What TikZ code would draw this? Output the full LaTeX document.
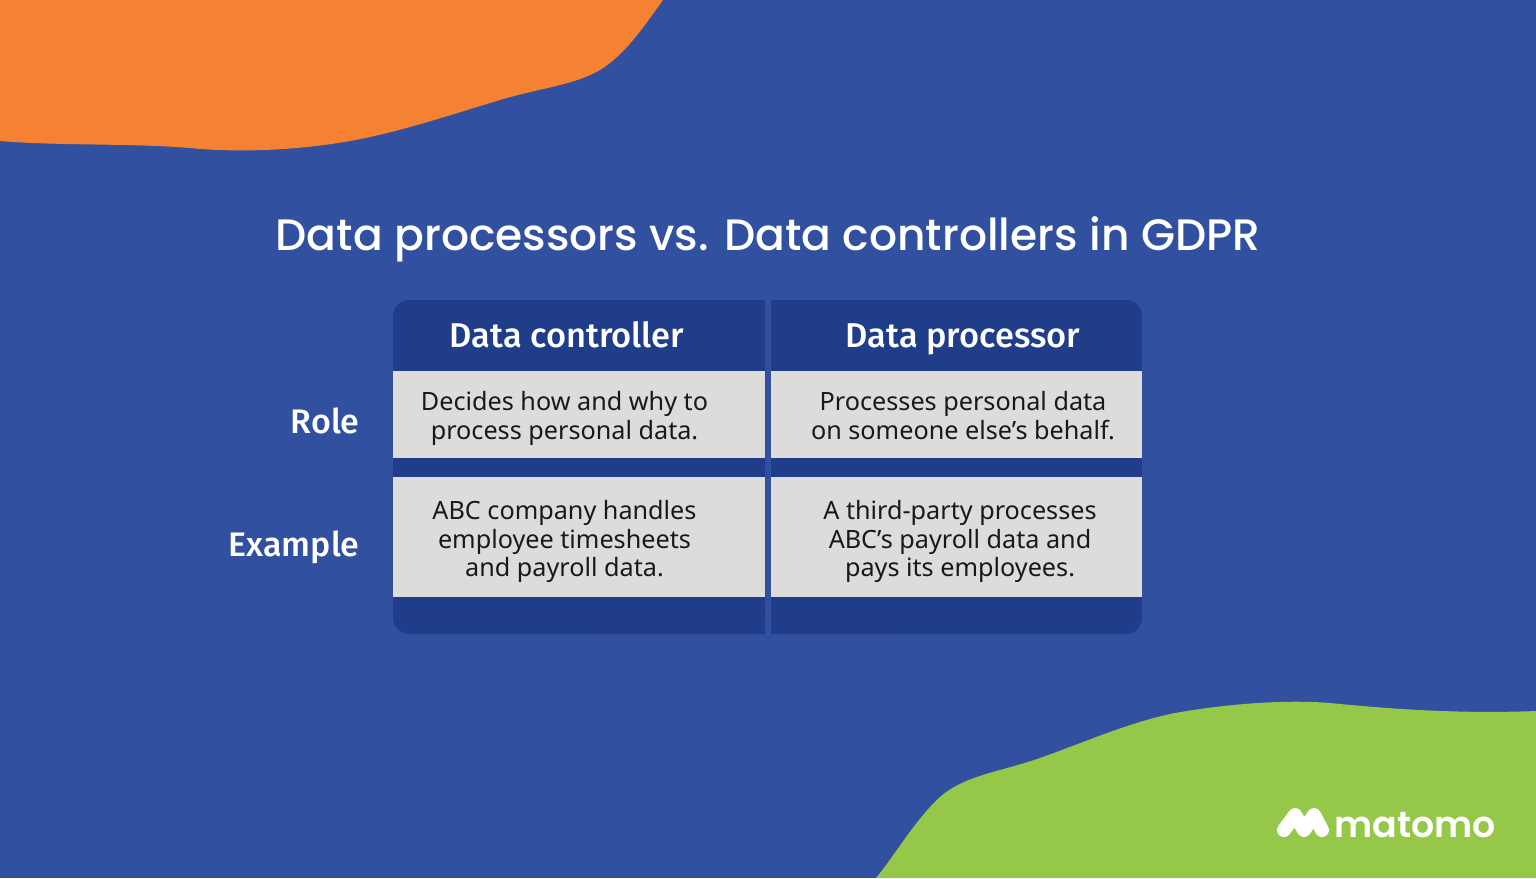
\documentclass[tikz,border=0pt]{standalone}
\usepackage{fontspec}
\setmainfont{Noto Sans}
\newfontfamily\mediumfont{Fira Sans Medium}
\newfontfamily\titlefont{Poppins Medium}
\newfontfamily\logofont{Poppins SemiBold}
\definecolor{bgblue}{HTML}{3150A0}
\definecolor{cellblue}{HTML}{1F3D88}
\definecolor{cellgray}{HTML}{DDDCDA}
\definecolor{blobor}{HTML}{F58233}
\definecolor{blobgr}{HTML}{95C748}
\tikzset{
    bodytext/.style = {black!90, font = \fontsize{12.6}{14.25}\selectfont, align = center, execute at begin node = \strut, execute at end node = \strut},
    headtext/.style = {white, font = \mediumfont\fontsize{17.2}{18}\selectfont, execute at begin node = \strut},
    sidetext/.style = {white, anchor = east, inner sep = 0, font = \mediumfont\fontsize{17}{18}\selectfont, execute at begin node = \strut},
}
\begin{document}
\begin{tikzpicture}[x = 0.5pt, y = -0.5pt]
    \fill [bgblue] (0, 0) rectangle (1536, 878);
    \useasboundingbox (0, 0) rectangle (1536, 878);
    % blobs
    \fill [blobor] (0, 0) -- (663, 0) .. controls (645, 25) and (625, 55) .. (600, 70)
        .. controls (575, 85) and (540, 88) .. (500, 100)
        .. controls (450, 115) and (400, 132) .. (350, 141)
        .. controls (300, 150) and (240, 153) .. (190, 148)
        .. controls (130, 143) and (60, 146) .. (0, 141) -- cycle;
    \fill [blobgr] (876, 878) .. controls (895, 855) and (915, 820) .. (940, 797)
        .. controls (965, 775) and (1000, 772) .. (1040, 758)
        .. controls (1085, 742) and (1130, 722) .. (1175, 713)
        .. controls (1220, 705) and (1280, 699) .. (1330, 703)
        .. controls (1390, 709) and (1460, 714) .. (1536, 711) -- (1536, 878) -- cycle;
    % table
    \fill [cellblue, rounded corners = 8] (393, 300) -- (393, 634) -- (765, 634) -- (765, 300) -- cycle;
    \fill [cellblue] (600, 300) rectangle (765, 320) (600, 610) rectangle (765, 634);
    \fill [cellblue, rounded corners = 8] (771, 300) -- (771, 634) -- (1142, 634) -- (1142, 300) -- cycle;
    \fill [cellblue] (771, 300) rectangle (900, 320) (771, 610) rectangle (900, 634);
    \fill [cellgray] (393, 371) rectangle (765, 458);
    \fill [cellgray] (771, 371) rectangle (1142, 458);
    \fill [cellgray] (393, 477) rectangle (765, 597);
    \fill [cellgray] (771, 477) rectangle (1142, 597);
    % texts
    \node [white, font = \titlefont\fontsize{22}{26}\selectfont] (title) at (768, 239) {Data processors vs. Data controllers in GDPR};
    \node [headtext] (head1) at (567, 340) {Data controller};
    \node [headtext] (head2) at (963, 340) {Data processor};
    \node [sidetext] (role) at (360, 426) {Role};
    \node [sidetext] (example) at (360, 549) {Example};
    \node [bodytext] (cell1) at (564.5, 419.5) {Decides how and why to\\process personal data.};
    \node [bodytext] (cell2) at (963, 419.5) {Processes personal data\\on someone else’s behalf.};
    \node [bodytext] (cell3) at (564.5, 543) {ABC company handles\\employee timesheets\\and payroll data.};
    \node [bodytext] (cell4) at (960, 543) {A third-party processes\\ABC’s payroll data and\\pays its employees.};
    % logo
    \draw [white, line width = 7pt, line cap = round, line join = round]
        (1284, 830) -- (1295, 815) -- (1304, 830) -- (1314, 815) -- (1322, 830);
    \node [white, font = \logofont\fontsize{18.2}{22}\selectfont] (logo) at (1415, 825) {matomo};
\end{tikzpicture}
\end{document}
